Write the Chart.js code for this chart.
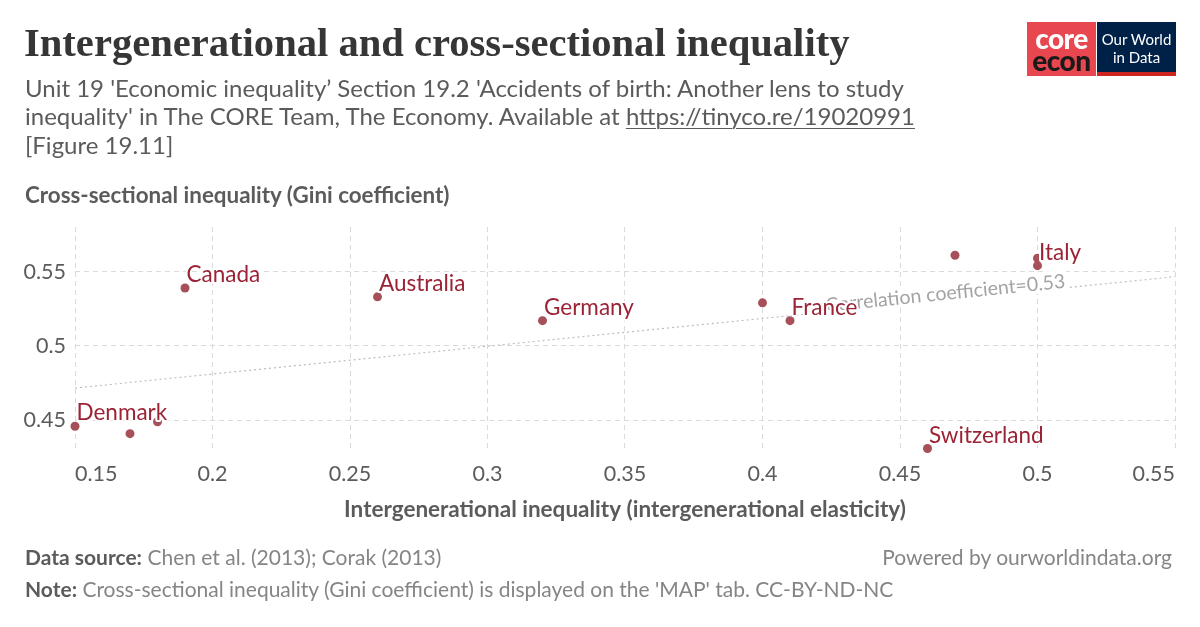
<!DOCTYPE html>
<html>
<head>
<meta charset="utf-8">
<script src="https://cdn.jsdelivr.net/npm/chart.js@4.4.1/dist/chart.umd.min.js"></script>
<style>
  html, body { margin:0; padding:0; background:#fff; }
  #wrap { position:relative; width:1200px; height:627px; overflow:hidden; font-family:Lato, sans-serif; }
  #c { position:absolute; left:0; top:0; }
  .t { position:absolute; white-space:nowrap; }
  #title { left:24px; top:19px; font-family:"Liberation Serif", serif; font-weight:bold; font-size:40.6px; color:#363636; line-height:48px; }
  #sub { left:25px; top:73.5px; font-size:24px; color:#5b5b5b; line-height:28.5px; white-space:normal; width:910px; }
  #sub a { color:#5b5b5b; text-decoration:underline; text-underline-offset:3px; text-decoration-thickness:1px; }
  #ytitle { left:25px; top:181.5px; font-size:22.4px; font-weight:bold; color:#5b5b5b; line-height:26px; }
  #src { left:25px; top:545px; font-size:21px; color:#858585; line-height:24px; }
  #note { left:25px; top:577px; font-size:21px; color:#858585; line-height:24px; }
  #pow { right:28px; top:545px; font-size:21px; color:#858585; line-height:24px; }
  b.k { color:#5b5b5b; font-weight:bold; }
  #logo1 { position:absolute; left:1027px; top:22px; width:69px; height:54px; background:#e8474f; }
  #logo1 div { position:absolute; left:0; width:69px; text-align:center; font-weight:900; font-size:28px; line-height:22px; letter-spacing:-0.5px; }
  #logo2 { position:absolute; left:1097px; top:22px; width:79px; height:54px; background:#002147; }
  #logo2 .s { position:absolute; left:0; bottom:0; width:79px; height:4px; background:#ce261e; }
  #logo2 div.w { position:absolute; left:0; width:79px; text-align:center; color:#fff; font-size:15px; line-height:17px; }
</style>
</head>
<body>
<div id="wrap">
  <canvas id="c" width="1200" height="627"></canvas>
  <div class="t" id="title">Intergenerational and cross-sectional inequality</div>
  <div class="t" id="sub">Unit 19 'Economic inequality’ Section 19.2 'Accidents of birth: Another lens to study inequality' in The CORE Team, The Economy. Available at <a>https://tinyco.re/19020991</a><br>[Figure 19.11]</div>
  <div class="t" id="ytitle">Cross-sectional inequality (Gini coefficient)</div>
  <div class="t" id="src"><b class="k">Data source:</b> Chen et al. (2013); Corak (2013)</div>
  <div class="t" id="pow">Powered by ourworldindata.org</div>
  <div class="t" id="note"><b class="k">Note:</b> Cross-sectional inequality (Gini coefficient) is displayed on the 'MAP' tab. CC-BY-ND-NC</div>
  <div id="logo1"><div style="top:5px;color:#fff">core</div><div style="top:27px;color:#1a1a1a">econ</div></div>
  <div id="logo2"><div class="w" style="top:9px">Our World</div><div class="w" style="top:27px">in Data</div><div class="s"></div></div>
</div>
<script>
// ---- Data ----
const countries = ["Denmark", "Norway", "Finland", "Canada", "Australia", "Germany", "Spain", "France", "United States", "United Kingdom", "Italy", "Switzerland"];
const showLabel = [true, false, false, true, true, true, false, true, false, false, true, true];
const intergenElasticity = [0.15, 0.17, 0.18, 0.19, 0.26, 0.32, 0.40, 0.41, 0.47, 0.50, 0.50, 0.46];
const giniCoefficient = [0.446, 0.441, 0.449, 0.539, 0.533, 0.517, 0.529, 0.517, 0.561, 0.559, 0.554, 0.431];
const trendX = [0.15, 0.55];
const trendY = [0.4717, 0.5466];
const correlationText = "Correlation coefficient=0.53";
const xTicks = [0.15, 0.2, 0.25, 0.3, 0.35, 0.4, 0.45, 0.5, 0.55];
const yTicks = [0.45, 0.5, 0.55];
const xTitle = "Intergenerational inequality (intergenerational elasticity)";

const pointColor = "#a6505a";
const labelColor = "#9b2335";
const fmt = v => String(Number(v.toFixed(2)));

const labelPlugin = {
  id: 'labels',
  afterDatasetsDraw(chart) {
    const ctx = chart.ctx;
    const xs = chart.scales.x, ys = chart.scales.y;
    // correlation text along the trend line
    const x0 = xs.getPixelForValue(trendX[0]), y0 = ys.getPixelForValue(trendY[0]);
    const x1 = xs.getPixelForValue(trendX[1]), y1 = ys.getPixelForValue(trendY[1]);
    const ang = Math.atan2(y1 - y0, x1 - x0);
    const cx = 946;
    const t = (cx - x0) / (x1 - x0);
    const cy = y0 + t * (y1 - y0);
    ctx.save();
    ctx.translate(cx, cy);
    ctx.rotate(ang);
    ctx.font = "19.5px Lato";
    const w = ctx.measureText(correlationText).width;
    ctx.fillStyle = "#fff";
    ctx.fillRect(-w / 2 - 2, -18, w + 4, 21);
    ctx.fillStyle = "#a3a3a3";
    ctx.textAlign = "center";
    ctx.textBaseline = "alphabetic";
    ctx.fillText(correlationText, 0, 0);
    ctx.restore();
    // country labels with a thin white halo
    const meta = chart.getDatasetMeta(0);
    ctx.save();
    ctx.font = "22.5px Lato";
    ctx.textAlign = "left";
    ctx.textBaseline = "alphabetic";
    ctx.lineJoin = "round";
    meta.data.forEach((el, i) => {
      if (!showLabel[i]) return;
      ctx.strokeStyle = "#fff";
      ctx.lineWidth = 4;
      ctx.strokeText(countries[i], el.x + 1.5, el.y - 6);
      ctx.fillStyle = labelColor;
      ctx.fillText(countries[i], el.x + 1.5, el.y - 6);
    });
    ctx.restore();
  }
};

new Chart(document.getElementById('c'), {
  type: 'scatter',
  data: {
    datasets: [
      {
        label: 'Countries',
        data: intergenElasticity.map((x, i) => ({ x: x, y: giniCoefficient[i] })),
        backgroundColor: pointColor,
        borderWidth: 0,
        pointRadius: 4.5,
        clip: false,
        order: 1
      },
      {
        type: 'line',
        label: 'Trend',
        data: trendX.map((x, i) => ({ x: x, y: trendY[i] })),
        borderColor: '#bdbdbd',
        borderWidth: 1.2,
        borderDash: [2, 3],
        pointRadius: 0,
        fill: false,
        order: 2
      }
    ]
  },
  options: {
    responsive: false,
    animation: false,
    events: [],
    layout: { padding: { left: 0, right: 25, top: 227, bottom: 97 } },
    plugins: { legend: { display: false }, tooltip: { enabled: false } },
    scales: {
      x: {
        type: 'linear', min: 0.15, max: 0.55,
        afterFit(s) { s.height = 80; s.paddingLeft = 0; s.paddingRight = 0; },
        afterBuildTicks(s) { s.ticks = xTicks.map(v => ({ value: v })); },
        grid: { color: '#dadada', lineWidth: 1, drawTicks: false },
        border: { display: false, dash: [5, 4] },
        ticks: { callback: v => fmt(v), font: { family: 'Lato', size: 21.5 }, color: '#5b5b5b', padding: 11, maxRotation: 0, align: 'inner' },
        title: { display: true, text: xTitle, font: { family: 'Lato', size: 22.5, weight: 'bold' }, color: '#5b5b5b', padding: { top: 0, bottom: 7 } }
      },
      y: {
        type: 'linear', min: 0.43, max: 0.58,
        afterFit(s) { s.width = 75; s.paddingTop = 0; s.paddingBottom = 0; },
        afterBuildTicks(s) { s.ticks = yTicks.map(v => ({ value: v })); },
        grid: { color: '#dadada', lineWidth: 1, drawTicks: false },
        border: { display: false, dash: [5, 4] },
        ticks: { callback: v => fmt(v), font: { family: 'Lato', size: 21.5 }, color: '#5b5b5b', padding: 9 }
      }
    }
  },
  plugins: [labelPlugin]
});
</script>
</body>
</html>
